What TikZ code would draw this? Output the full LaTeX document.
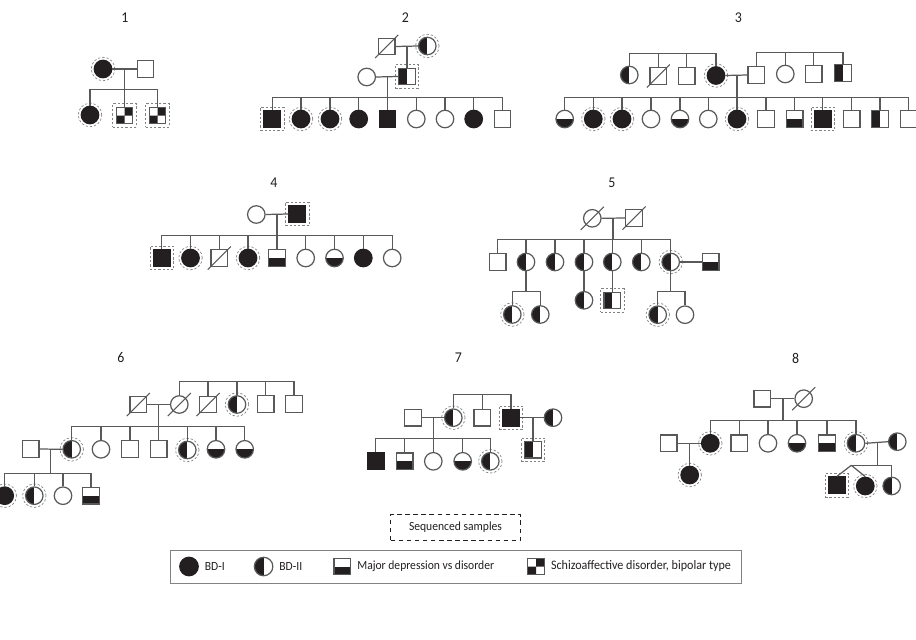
\documentclass[tikz,border=0pt]{standalone}
\usepackage{fontspec}
\setmainfont[FakeStretch=0.93]{Carlito}
\usetikzlibrary{shapes.misc}
\definecolor{inkdark}{HTML}{231F20}
\definecolor{linegray}{HTML}{58595B}
\definecolor{seqgray}{HTML}{808285}
\tikzset{
  sqr/.style={rectangle,draw=linegray,line width=0.7pt,inner sep=0pt,minimum size=0.335cm},
  cir/.style={circle,draw=linegray,line width=0.7pt,inner sep=0pt,minimum size=0.35cm},
  full/.style={fill=inkdark,draw=inkdark},
  halfleft/.style={path picture={\fill [inkdark] (path picture bounding box.south west) rectangle (path picture bounding box.north);}},
  halflow/.style={path picture={\fill [inkdark] (path picture bounding box.south west) rectangle (path picture bounding box.east);}},
  checker/.style={path picture={\fill [inkdark] (path picture bounding box.center) rectangle (path picture bounding box.north east)
      (path picture bounding box.center) rectangle (path picture bounding box.south west);}},
  seqs/.style={label={[rectangle,draw=seqgray,line width=0.4pt,dash pattern=on 1.3pt off 1.1pt,minimum size=0.47cm,inner sep=0pt]center:{}}},
  seqc/.style={label={[circle,draw=seqgray,line width=0.4pt,dash pattern=on 1.3pt off 1.1pt,minimum size=0.47cm,inner sep=0pt]center:{}}},
  dead/.style={label={[strike out,draw=linegray,line width=0.6pt,minimum size=0.44cm,inner sep=0pt]center:{}}},
  famno/.style={text=inkdark,font=\fontsize{8.5}{10}\selectfont,inner sep=0pt},
  legtext/.style={anchor=west,text=inkdark,font=\fontsize{7.1}{8}\selectfont,inner sep=0pt},
  tie/.style={draw=linegray,line width=0.7pt}
}

\begin{document}
\begin{tikzpicture}[x=0.02cm,y=-0.02cm]
      \useasboundingbox (0,0) rectangle (916,639);

      % family 1
      \node [famno] (t1) at (125,18) {1};
      \node [cir,full,seqc] (a1) at (103,69) {};
      \node [sqr] (a2) at (145.5,69) {};
      \node [cir,full,seqc] (a3) at (90,115) {};
      \node [sqr,checker,seqs] (a4) at (124.5,115.5) {};
      \node [sqr,checker,seqs] (a5) at (157.5,115.5) {};
      \coordinate (aj) at (124.5,69);
      \coordinate (ar) at (124.5,89.5);
      \draw [tie] (a1.east) -- (a2.west);
      \draw [tie] (aj) -- (ar);
      \draw [tie] (ar) -| (a3.north) (ar) -| (a4.north) (ar) -| (a5.north);

      % family 2
      \node [famno] (t2) at (405.5,18) {2};
      \node [sqr,dead] (b1) at (386.7,46.5) {};
      \node [cir,halfleft,seqc] (b2) at (427.3,46) {};
      \node [cir] (b3) at (366.7,77) {};
      \node [sqr,halfleft,seqs] (b4) at (407,76.5) {};
      \node [sqr,full,seqs] (b5) at (272.3,119) {};
      \node [cir,full,seqc] (b6) at (301,119) {};
      \node [cir,full,seqc] (b7) at (330,119) {};
      \node [cir,full] (b8) at (358.7,119) {};
      \node [sqr,full] (b9) at (387.5,119) {};
      \node [cir] (b10) at (416.3,119) {};
      \node [cir] (b11) at (445,119) {};
      \node [cir,full] (b12) at (473.7,119) {};
      \node [sqr] (b13) at (502.5,119) {};
      \coordinate (bj) at (407,46.3);
      \coordinate (bk) at (387.5,76.8);
      \coordinate (br) at (387.5,97.3);
      \draw [tie] (b1.east) -- (b2.west);
      \draw [tie] (bj) -- (b4.north);
      \draw [tie] (b3.east) -- (b4.west);
      \draw [tie] (bk) -- (br);
      \draw [tie] (br) -| (b5.north) (br) -| (b6.north) (br) -| (b7.north)
        (br) -| (b8.north) (br) -| (b9.north) (br) -| (b10.north)
        (br) -| (b11.north) (br) -| (b12.north) (br) -| (b13.north);

      % family 3
      \node [famno] (t3) at (738.3,18) {3};
      \node [cir,halfleft] (c1) at (629.3,75) {};
      \node [sqr,dead] (c2) at (658.3,76) {};
      \node [sqr] (c3) at (686.7,76) {};
      \node [cir,full,seqc] (c4) at (716,75.5) {};
      \node [sqr] (c5) at (756.3,75) {};
      \node [cir] (c6) at (785.3,74) {};
      \node [sqr] (c7) at (813.7,74) {};
      \node [sqr,halfleft] (c8) at (843,73) {};
      \node [cir,halflow] (c9) at (564.7,119) {};
      \node [cir,full,seqc] (c10) at (593.3,119) {};
      \node [cir,full,seqc] (c11) at (622,119) {};
      \node [cir] (c12) at (651,119) {};
      \node [cir,halflow] (c13) at (680,119) {};
      \node [cir] (c14) at (708.3,119) {};
      \node [cir,full,seqc] (c15) at (737,119) {};
      \node [sqr] (c16) at (766,119) {};
      \node [sqr,halflow] (c17) at (794.7,119) {};
      \node [sqr,full,seqs] (c18) at (822.7,119) {};
      \node [sqr] (c19) at (851.7,119) {};
      \node [sqr,halfleft] (c20) at (880,119) {};
      \node [sqr] (c21) at (908.7,119) {};
      \coordinate (cl) at (672.5,53.7);
      \coordinate (cm) at (799.5,52.3);
      \coordinate (cj) at (737,75);
      \coordinate (cr) at (737,97.3);
      \draw [tie] (cl) -| (c1.north) (cl) -| (c2.north) (cl) -| (c3.north) (cl) -| (c4.north);
      \draw [tie] (cm) -| (c5.north) (cm) -| (c6.north) (cm) -| (c7.north) (cm) -| (c8.north);
      \draw [tie] (c4.east) -- (c5.west);
      \draw [tie] (cj) -- (cr);
      \draw [tie] (cr) -| (c9.north) (cr) -| (c10.north) (cr) -| (c11.north)
        (cr) -| (c12.north) (cr) -| (c13.north) (cr) -| (c14.north)
        (cr) -| (c15.north) (cr) -| (c16.north) (cr) -| (c17.north)
        (cr) -| (c18.north) (cr) -| (c19.north) (cr) -| (c20.north) (cr) -| (c21.north);

      % family 4
      \node [famno] (t4) at (274,183) {4};
      \node [cir] (d1) at (256.3,214.5) {};
      \node [sqr,full,seqs] (d2) at (297.3,214) {};
      \node [sqr,full,seqs] (d3) at (161.7,258) {};
      \node [cir,full,seqc] (d4) at (190.5,258) {};
      \node [sqr,dead] (d5) at (219.3,258) {};
      \node [cir,full,seqc] (d6) at (248,258) {};
      \node [sqr,halflow] (d7) at (277,258) {};
      \node [cir] (d8) at (305.7,258) {};
      \node [cir,halflow] (d9) at (334.5,258) {};
      \node [cir,full] (d10) at (363.3,258) {};
      \node [cir] (d11) at (392.2,258) {};
      \coordinate (dj) at (277,214.3);
      \coordinate (dr) at (277,235.3);
      \draw [tie] (d1.east) -- (d2.west);
      \draw [tie] (dj) -- (dr);
      \draw [tie] (dr) -| (d3.north) (dr) -| (d4.north) (dr) -| (d5.north)
        (dr) -| (d6.north) (dr) -| (d7.north) (dr) -| (d8.north)
        (dr) -| (d9.north) (dr) -| (d10.north) (dr) -| (d11.north);

      % family 5
      \node [famno] (t5) at (612,183) {5};
      \node [cir,dead] (e1) at (592.3,218.3) {};
      \node [sqr,dead] (e2) at (634,218) {};
      \node [sqr] (e3) at (497.7,262) {};
      \node [cir,halfleft] (e4) at (526,262) {};
      \node [cir,halfleft] (e5) at (555,262) {};
      \node [cir,halfleft] (e6) at (584,262) {};
      \node [cir,halfleft] (e7) at (612.3,262) {};
      \node [cir,halfleft] (e8) at (641.3,262) {};
      \node [cir,halfleft,seqc] (e9) at (670.7,262) {};
      \node [sqr,halflow] (e10) at (710.7,262) {};
      \node [cir,halfleft,seqc] (e11) at (512.3,314.5) {};
      \node [cir,halfleft] (e12) at (540.3,314.5) {};
      \node [cir,halfleft] (e13) at (584,300.3) {};
      \node [sqr,halfleft,seqs] (e14) at (612.3,300.5) {};
      \node [cir,halfleft,seqc] (e15) at (657.7,314.7) {};
      \node [cir] (e16) at (685,314.7) {};
      \coordinate (ej) at (613,218);
      \coordinate (er) at (613,239.3);
      \coordinate (es) at (526,291.7);
      \coordinate (et) at (670.7,291.7);
      \draw [tie] (e1.east) -- (e2.west);
      \draw [tie] (ej) -- (er);
      \draw [tie] (er) -| (e3.north) (er) -| (e4.north) (er) -| (e5.north)
        (er) -| (e6.north) (er) -| (e7.north) (er) -| (e8.north) (er) -| (e9.north);
      \draw [tie] (e9.east) -- (e10.west);
      \draw [tie] (e4.south) -- (es);
      \draw [tie] (es) -| (e11.north) (es) -| (e12.north);
      \draw [tie] (e6.south) -- (e13.north);
      \draw [tie] (e7.south) -- (e14.north);
      \draw [tie] (e9.south) -- (et);
      \draw [tie] (et) -| (e15.north) (et) -| (e16.north);

      % family 6
      \node [famno] (t6) at (121,358) {6};
      \node [sqr,dead] (f1) at (138.3,404.5) {};
      \node [cir,dead] (f2) at (179.3,404.5) {};
      \node [sqr,dead] (f3) at (208,404.5) {};
      \node [cir,halfleft,seqc] (f4) at (237,404.5) {};
      \node [sqr] (f5) at (265.7,404) {};
      \node [sqr] (f6) at (294,404) {};
      \node [sqr] (f7) at (30.7,449) {};
      \node [cir,halfleft,seqc] (f8) at (71.7,449.3) {};
      \node [cir] (f9) at (101,449.3) {};
      \node [sqr] (f10) at (130,449) {};
      \node [sqr] (f11) at (158.7,449) {};
      \node [cir,halfleft,seqc] (f12) at (187.3,450) {};
      \node [cir,halflow] (f13) at (216,449.3) {};
      \node [cir,halflow] (f14) at (244.7,449.3) {};
      \node [cir,full,seqc] (f15) at (4.7,495.7) {};
      \node [cir,halfleft,seqc] (f16) at (34.3,495.7) {};
      \node [cir] (f17) at (63,495.7) {};
      \node [sqr,halflow] (f18) at (91,495.7) {};
      \coordinate (fk) at (236.7,381.7);
      \coordinate (fj) at (158.3,404.5);
      \coordinate (fr) at (158.3,426.7);
      \coordinate (fm) at (50.7,449.2);
      \coordinate (fs) at (50.7,473.3);
      \draw [tie] (fk) -| (f2.north) (fk) -| (f3.north) (fk) -| (f4.north)
        (fk) -| (f5.north) (fk) -| (f6.north);
      \draw [tie] (f1.east) -- (f2.west);
      \draw [tie] (fj) -- (fr);
      \draw [tie] (fr) -| (f8.north) (fr) -| (f9.north) (fr) -| (f10.north)
        (fr) -| (f11.north) (fr) -| (f12.north) (fr) -| (f13.north) (fr) -| (f14.north);
      \draw [tie] (f7.east) -- (f8.west);
      \draw [tie] (fm) -- (fs);
      \draw [tie] (fs) -| (f15.north) (fs) -| (f16.north) (fs) -| (f17.north) (fs) -| (f18.north);

      % family 7
      \node [famno] (t7) at (458.3,358) {7};
      \node [sqr] (g1) at (413,417.7) {};
      \node [cir,halfleft,seqc] (g2) at (453.3,417.7) {};
      \node [sqr] (g3) at (482.3,417.7) {};
      \node [sqr,full,seqs] (g4) at (511,417.7) {};
      \node [cir,halfleft] (g5) at (553,417.7) {};
      \node [sqr,full] (g6) at (375.7,461.3) {};
      \node [sqr,halflow] (g7) at (404.7,461.3) {};
      \node [cir] (g8) at (433.3,461.3) {};
      \node [cir,halflow] (g9) at (462.7,461.3) {};
      \node [cir,halfleft,seqc] (g10) at (490.3,461.3) {};
      \node [sqr,halfleft,seqs] (g11) at (533,449.7) {};
      \coordinate (gk) at (482.3,394.7);
      \coordinate (gj) at (433.3,417.7);
      \coordinate (gr) at (433.3,438.7);
      \coordinate (gm) at (533,417.7);
      \draw [tie] (gk) -| (g2.north) (gk) -| (g3.north) (gk) -| (g4.north);
      \draw [tie] (g1.east) -- (g2.west);
      \draw [tie] (gj) -- (gr);
      \draw [tie] (gr) -| (g6.north) (gr) -| (g7.north) (gr) -| (g8.north)
        (gr) -| (g9.north) (gr) -| (g10.north);
      \draw [tie] (g4.east) -- (g5.west);
      \draw [tie] (gm) -- (g11.north);

      % family 8
      \node [famno] (t8) at (795.7,358) {8};
      \node [sqr] (h1) at (762.3,398.7) {};
      \node [cir,dead] (h2) at (803.7,398.7) {};
      \node [cir,full,seqc] (h3) at (710.3,443.3) {};
      \node [sqr] (h4) at (739.3,443.3) {};
      \node [cir] (h5) at (768,443.3) {};
      \node [cir,halflow] (h6) at (797,443.3) {};
      \node [sqr,halflow] (h7) at (827,443.3) {};
      \node [cir,halfleft,seqc] (h8) at (856,443.3) {};
      \node [sqr] (h9) at (668.7,443.3) {};
      \node [cir,full,seqc] (h10) at (689.7,475) {};
      \node [cir,halfleft] (h11) at (897.3,441.7) {};
      \node [sqr,full,seqs] (h12) at (837,485.3) {};
      \node [cir,full,seqc] (h13) at (865.3,486) {};
      \node [cir,halfleft] (h14) at (891.7,486) {};
      \coordinate (hj) at (783,398.7);
      \coordinate (hr) at (783,420.3);
      \coordinate (hm) at (689.7,443.3);
      \coordinate (hk) at (877.3,441.7);
      \coordinate (hs) at (877.3,465.3);
      \coordinate (ht) at (851.3,465.3);
      \draw [tie] (h1.east) -- (h2.west);
      \draw [tie] (hj) -- (hr);
      \draw [tie] (hr) -| (h3.north) (hr) -| (h4.north) (hr) -| (h5.north)
        (hr) -| (h6.north) (hr) -| (h7.north) (hr) -| (h8.north);
      \draw [tie] (h9.east) -- (h3.west);
      \draw [tie] (hm) -- (h10.north);
      \draw [tie] (h8.east) -- (h11.west);
      \draw [tie] (hk) -- (hs);
      \draw [tie] (hs) -- (ht);
      \draw [tie] (hs) -| (h14.north);
      \draw [tie] (ht) -- (h12.north);
      \draw [tie] (ht) -- (h13.north);

      % key
      \node [draw=inkdark,line width=0.5pt,dash pattern=on 2.6pt off 2pt,minimum width=2.6cm,
        minimum height=0.52cm,text=inkdark,font=\fontsize{7.1}{8}\selectfont] (samples) at (455.5,527.5) {Sequenced samples};
      \node [draw=seqgray,line width=0.4pt,minimum width=11.42cm,minimum height=0.66cm] (keybox) at (455.5,566.5) {};
      \node [cir,full,minimum size=0.37cm] (k1) at (189,566.5) {};
      \node [legtext] (l1) at (204.5,566.5) {BD-I};
      \node [cir,halfleft,minimum size=0.37cm] (k2) at (263.6,566.5) {};
      \node [legtext] (l2) at (279,566.5) {BD-II};
      \node [sqr,halflow] (k3) at (342.4,566.5) {};
      \node [legtext] (l3) at (357,566.5) {Major depression vs disorder};
      \node [sqr,checker] (k4) at (536,566.5) {};
      \node [legtext,font=\fontsize{7.4}{8}\selectfont] (l4) at (550.7,566.5) {Schizoaffective disorder, bipolar type};
  \end{tikzpicture}
\end{document}
